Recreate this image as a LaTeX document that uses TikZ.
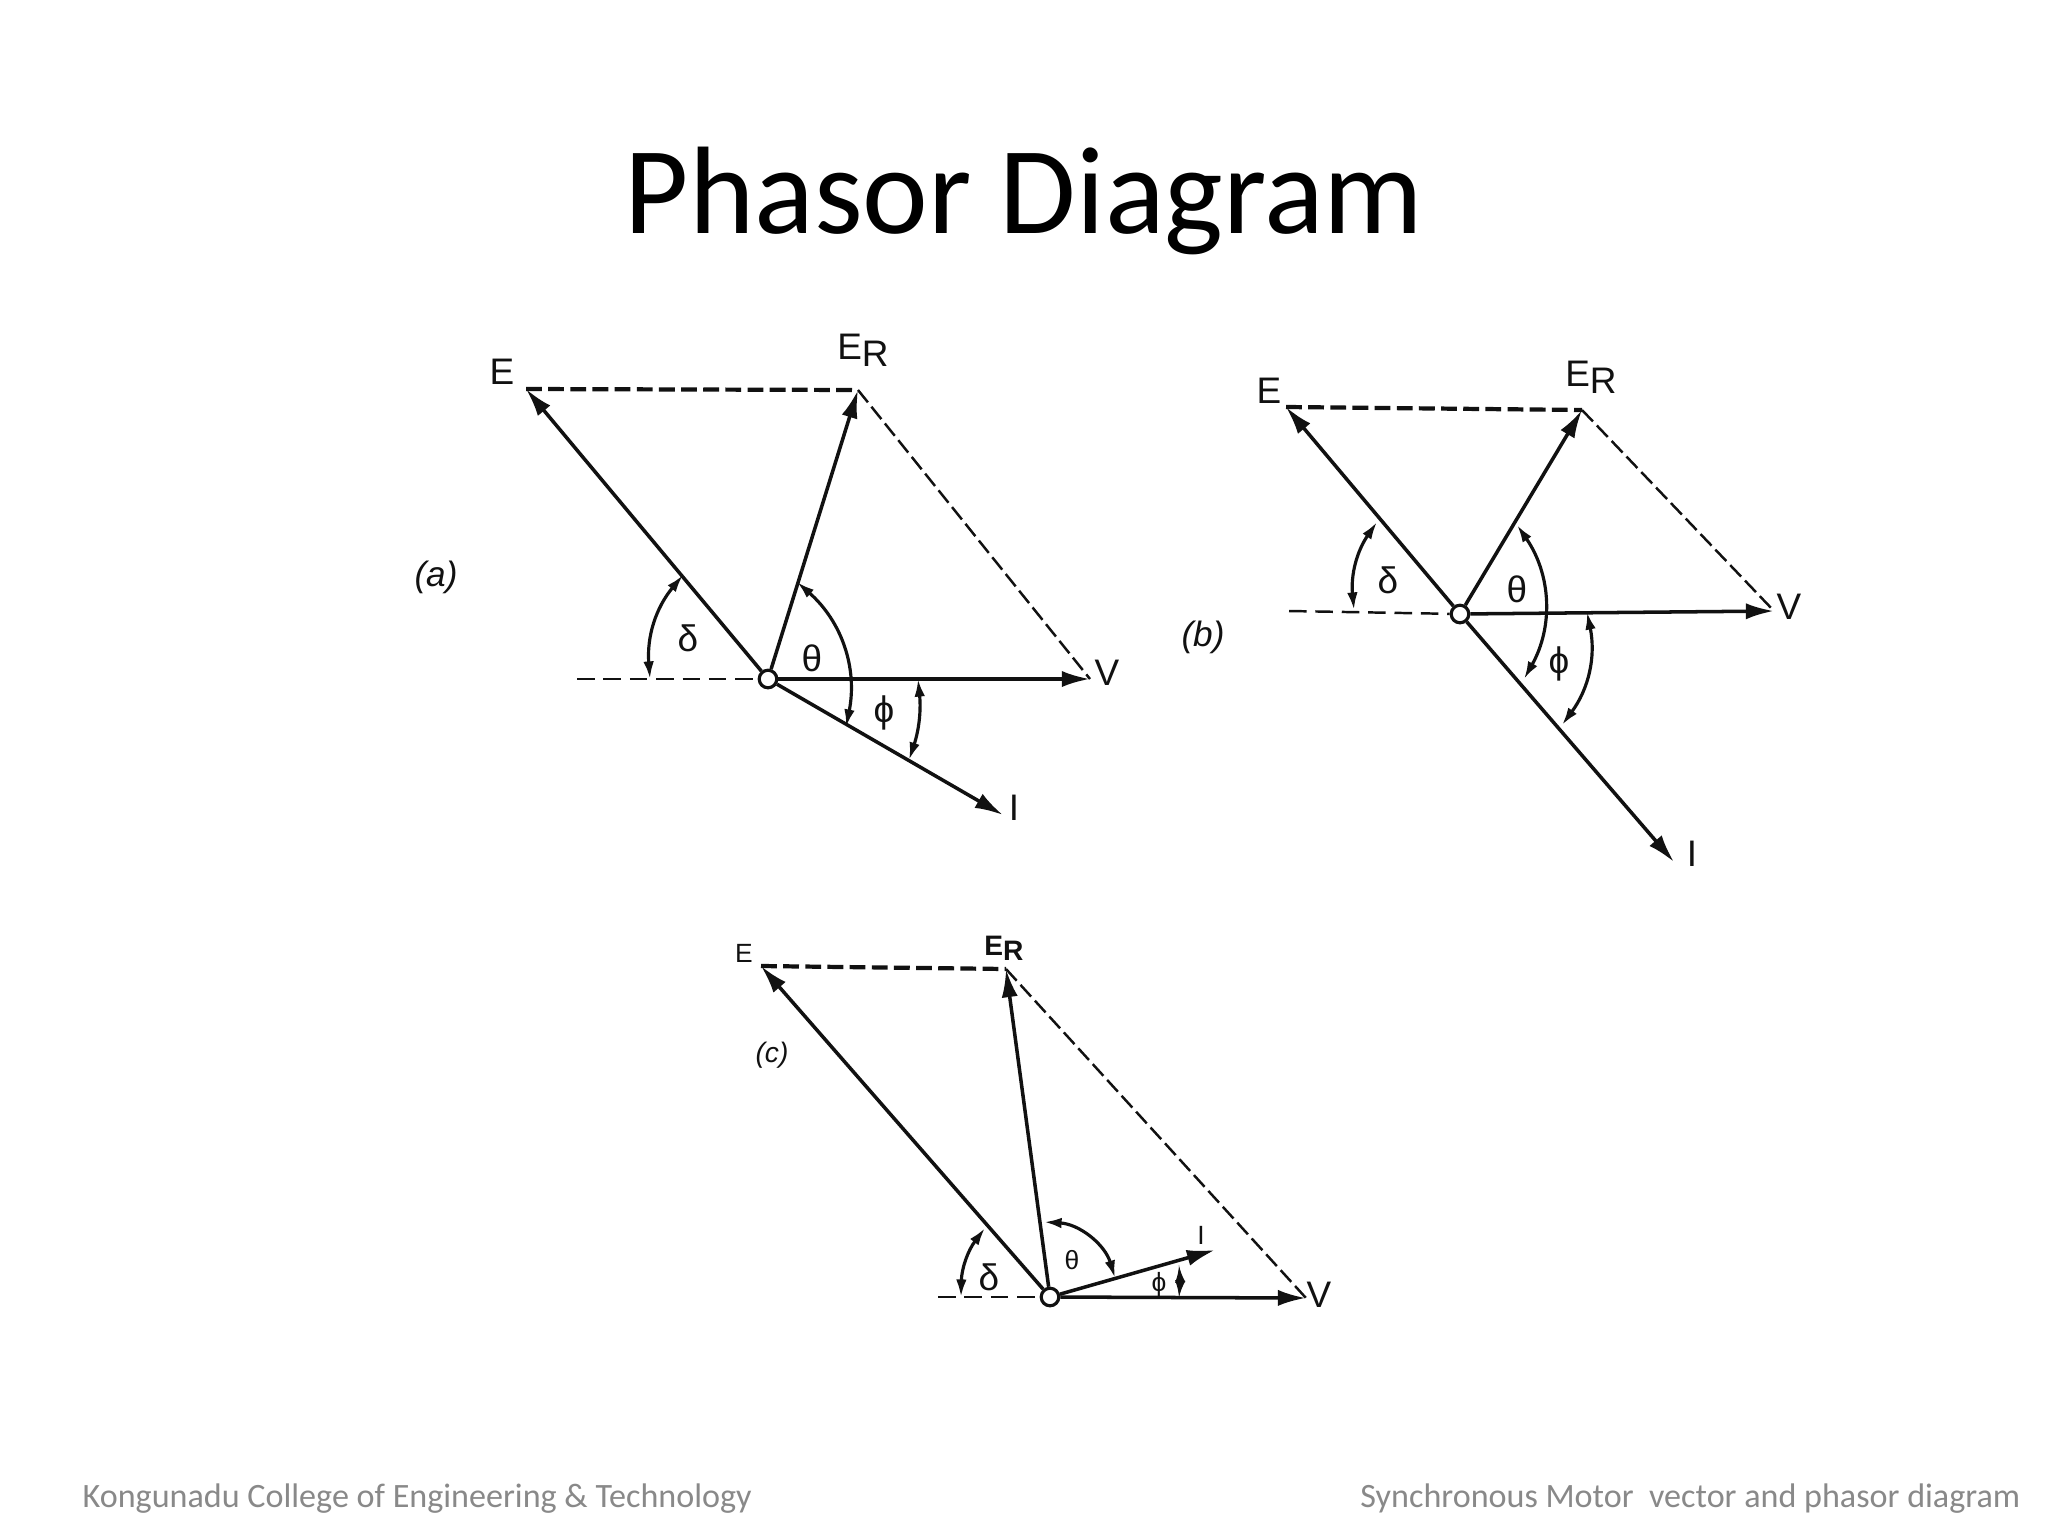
\documentclass[tikz,border=0pt]{standalone}
\usepackage{fontspec}
\setmainfont{Liberation Sans}
\newfontfamily\slidefont{Carlito}
\usetikzlibrary{arrows.meta}
\definecolor{footgray}{HTML}{898989}
\definecolor{inkc}{HTML}{111111}
\tikzset{
  x=0.01cm,y=-0.01cm,
  phasor/.style={draw=inkc,line width=1pt,-{Latex[length=8pt,width=4.6pt]}},
  topdash/.style={draw=inkc,line width=1.2pt,dash pattern=on 4.5pt off 1.8pt},
  sidedash/.style={draw=inkc,line width=.7pt,dash pattern=on 4.5pt off 1.6pt},
  refdash/.style={draw=inkc,line width=.7pt,dash pattern=on 5pt off 2.5pt},
  anglearc/.style={draw=inkc,line width=.9pt,{Latex[length=5pt,width=3pt]}-{Latex[length=5pt,width=3pt]}},
  hub/.style={circle,draw=inkc,fill=white,line width=.9pt,minimum size=5pt,inner sep=0pt},
  lab/.style={inner sep=0pt,text=inkc,font=\fontsize{10.5}{12}\selectfont},
  labsmall/.style={inner sep=0pt,text=inkc,font=\fontsize{7.5}{9}\selectfont},
  caseit/.style={inner sep=0pt,text=inkc,font=\fontsize{10}{12}\selectfont\itshape},
  casesmall/.style={inner sep=0pt,text=inkc,font=\fontsize{8}{10}\selectfont\itshape},
  title/.style={inner sep=0pt,font=\slidefont\fontsize{35.4}{40}\selectfont},
  foot/.style={inner sep=0pt,text=footgray,font=\slidefont\fontsize{9.7}{11}\selectfont},
}
\newcommand{\subR}{\raisebox{-.35ex}{R}}
\begin{document}
\begin{tikzpicture}
\useasboundingbox (0,0) rectangle (2048,1536);
\fill[white] (0,0) rectangle (2048,1536);

\node[title] (ttl) at (1024,201) {Phasor Diagram};
\node[foot,anchor=west] (fl) at (82,1499) {Kongunadu College of Engineering \& Technology};
\node[foot,anchor=east] (fr) at (2021,1499) {Synchronous\ Motor\ \ vector and phasor diagram};

% ---------- (a)
\node[hub] (ao) at (768,679) {};
\coordinate (ae) at (526,389);
\coordinate (ar) at (858,390);
\coordinate (av) at (1090,679);
\coordinate (ai) at (1003,815);
\coordinate (al) at (577,679);
\draw[topdash] (ae) -- (ar);
\draw[sidedash] (ar) -- (av);
\draw[refdash] (al) -- (ao);
\draw[phasor] (ao) -- (ae);
\draw[phasor] (ao) -- (ar);
\draw[phasor] (ao) -- (av);
\draw[phasor] (ao) -- (ai);
\coordinate (ad1) at (650,679); \coordinate (ad2) at (683,575);
\draw[anglearc] (ad1) to[bend left=22] (ad2);
\coordinate (at1) at (797,582); \coordinate (at2) at (846,727);
\draw[anglearc] (at1) to[bend left=30] (at2);
\coordinate (ap1) at (918,679); \coordinate (ap2) at (909,760);
\draw[anglearc] (ap1) to[bend left=12] (ap2);
\node[lab] (alE) at (502,372) {E};
\node[lab] (alR) at (863,350) {E\subR};
\node[lab] (alV) at (1107,673) {V};
\node[lab] (alI) at (1014,808) {I};
\node[lab] (ald) at (688,638) {δ};
\node[lab] (alt) at (812,658) {θ};
\node[lab] (alp) at (884,713) {ϕ};
\node[caseit] (alc) at (436,577) {(a)};

% ---------- (b)
\node[hub] (bo) at (1460,614) {};
\coordinate (be) at (1286,407);
\coordinate (br) at (1582,410);
\coordinate (bv) at (1774,611);
\coordinate (bi) at (1674,862);
\coordinate (bl) at (1289,611);
\draw[topdash] (be) -- (br);
\draw[sidedash] (br) -- (bv);
\draw[refdash] (bl) -- (bo);
\draw[phasor] (bo) -- (be);
\draw[phasor] (bo) -- (br);
\draw[phasor] (bo) -- (bv);
\draw[phasor] (bo) -- (bi);
\coordinate (bd1) at (1354,610); \coordinate (bd2) at (1377,522);
\draw[anglearc] (bd1) to[bend left=20] (bd2);
\coordinate (bt1) at (1517,525); \coordinate (bt2) at (1524,679);
\draw[anglearc] (bt1) to[bend left=32] (bt2);
\coordinate (bp1) at (1587,612); \coordinate (bp2) at (1562,725);
\draw[anglearc] (bp1) to[bend left=24] (bp2);
\node[lab] (blE) at (1269,391) {E};
\node[lab] (blR) at (1591,377) {E\subR};
\node[lab] (blV) at (1789,607) {V};
\node[lab] (blI) at (1692,854) {I};
\node[lab] (bld) at (1388,580) {δ};
\node[lab] (blt) at (1517,589) {θ};
\node[lab] (blp) at (1559,664) {ϕ};
\node[caseit] (blc) at (1203,637) {(b)};

% ---------- (c)
\node[hub] (co) at (1050,1297) {};
\coordinate (ce) at (761,966);
\coordinate (cr) at (1006,969);
\coordinate (cv) at (1306,1298);
\coordinate (ci) at (1215,1250);
\coordinate (cl) at (938,1297);
\draw[topdash] (ce) -- (cr);
\draw[sidedash] (cr) -- (cv);
\draw[refdash] (cl) -- (co);
\draw[phasor] (co) -- (ce);
\draw[phasor] (co) -- (cr);
\draw[phasor] (co) -- (cv);
\draw[phasor] (co) -- (ci);
\coordinate (cd1) at (961,1297); \coordinate (cd2) at (985,1228);
\draw[anglearc] (cd1) to[bend left=18] (cd2);
\coordinate (ct1) at (1044,1222); \coordinate (ct2) at (1115,1278);
\draw[anglearc] (ct1) to[bend left=35] (ct2);
\coordinate (cp1) at (1179,1265); \coordinate (cp2) at (1179,1298);
\draw[anglearc] (cp1) to[bend left=4] (cp2);
\node[labsmall] (clE) at (744,953) {E};
\node[labsmall,font=\fontsize{8}{9}\selectfont\bfseries] (clR) at (1004,948) {E\subR};
\node[lab] (clV) at (1319,1295) {V};
\node[labsmall] (clI) at (1201,1235) {I};
\node[lab] (cld) at (989,1277) {δ};
\node[labsmall] (clt) at (1072,1260) {θ};
\node[labsmall] (clp) at (1159,1285) {ϕ};
\node[casesmall] (clc) at (772,1055) {(c)};
\end{tikzpicture}
\end{document}
